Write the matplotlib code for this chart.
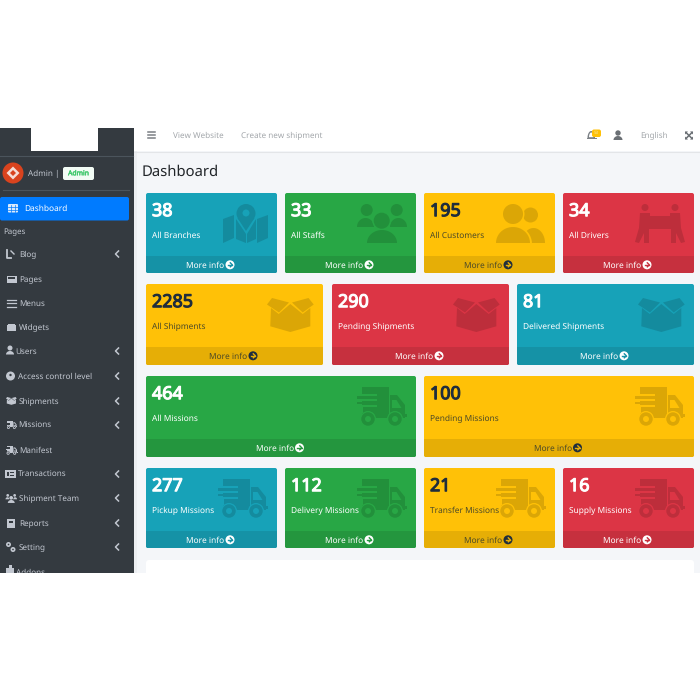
import numpy as np
import matplotlib
matplotlib.use('Agg')
import matplotlib.pyplot as plt
import matplotlib.patheffects as pe
from matplotlib.patches import Rectangle, Circle, Polygon, FancyBboxPatch
from matplotlib.colors import to_rgb

plt.rcParams['font.family'] = ['Noto Sans', 'DejaVu Sans']
plt.rcParams['text.hinting'] = 'no_hinting'

# dashboard data
card_values = [38, 33, 195, 34, 2285, 290, 81, 464, 100, 277, 112, 21, 16]
card_labels = ['All Branches', 'All Staffs', 'All Customers', 'All Drivers',
               'All Shipments', 'Pending Shipments', 'Delivered Shipments',
               'All Missions', 'Pending Missions',
               'Pickup Missions', 'Delivery Missions', 'Transfer Missions', 'Supply Missions']
card_colors = ['info', 'green', 'yellow', 'red',
               'yellow', 'red', 'info',
               'green', 'yellow',
               'info', 'green', 'yellow', 'red']
card_icons = ['map', 'team', 'users', 'carry',
              'box', 'box', 'box',
              'truck', 'truck',
              'truck', 'truck', 'truck', 'truck']
menu_labels = ['Blog', 'Pages', 'Menus', 'Widgets', 'Users', 'Access control level', 'Shipments',
               'Missions', 'Manifest', 'Transactions', 'Shipment Team', 'Reports', 'Setting', 'Addons']
menu_has_arrow = [1, 0, 0, 0, 1, 1, 1, 1, 0, 1, 1, 1, 1, 0]
nav_links = ['View Website', 'Create new shipment']

palette = {'info': '#17a2b8', 'green': '#28a745', 'yellow': '#ffc107', 'red': '#dc3545'}
side_txt = '#c2c7d0'
fs = 6.0
fs_nav = 5.85

# layout, in pixels of the 700x700 picture
row_tops = [193, 284, 376, 468]
row_bottoms = [273, 365, 457, 548]
row_lefts = [[146, 285, 424, 563], [146, 332, 517], [146, 424], [146, 285, 424, 563]]
row_rights = [[277, 416, 555, 694], [323, 509, 694], [416, 694], [277, 416, 555, 694]]
menu_y = [254, 279, 303, 327, 351, 376, 401, 425, 450, 474, 498, 523, 547, 572]
menu_x = [19, 19, 19, 19, 15, 18, 19, 18, 19, 18, 19, 19, 19, 16]

fig = plt.figure(figsize=(7, 7), dpi=100, facecolor='white')
ax = fig.add_axes([0, 0, 1, 1])
ax.set_xlim(0, 700)
ax.set_ylim(700, 0)
ax.axis('off')


def shade(c, f):
    return tuple(v * f for v in to_rgb(c))


def rect(x0, y0, x1, y1, c, z=1, **kw):
    r = Rectangle((x0, y0), x1 - x0, y1 - y0, fc=c, ec='none', zorder=z, **kw)
    ax.add_patch(r)
    return r


def poly(pts, x, y, s, c, z=4):
    pts = np.array(pts, dtype=float) * s + [x, y]
    ax.add_patch(Polygon(pts, closed=True, fc=c, ec='none', zorder=z))


def circ(cx, cy, r, c, z=4, x=0, y=0, s=1, **kw):
    ax.add_patch(Circle((x + cx * s, y + cy * s), r * s, fc=c, ec='none', zorder=z, **kw))


def heavy(t, c, lw):
    # Noto Sans comes without a usable bold here, so thicken the glyphs
    t.set_path_effects([pe.withStroke(linewidth=lw, foreground=c)])


def bust(x0, x1, top, bot):
    # half ellipse on a flat bottom
    t = np.linspace(np.pi, 2 * np.pi, 24)
    cx = (x0 + x1) / 2
    return list(zip(cx + (x1 - x0) / 2 * np.cos(t), bot + (bot - top) * np.sin(t)))


def truck(x, y, s, c, bg):
    poly([(5, 0), (32, 0), (32, 31), (5, 31)], x, y, s, c)
    poly([(33, 8), (40, 8), (48, 18), (48, 31), (33, 31)], x, y, s, c)
    poly([(35, 13), (39.5, 13), (44.5, 21), (35, 21)], x, y, s, bg, 5)
    for yy in (6.5, 12, 17.5):
        poly([(0, yy), (20, yy), (20, yy + 2.2), (0, yy + 2.2)], x, y, s, bg, 5)
    for yy in (9.2, 14.7):
        poly([(0, yy), (20, yy), (20, yy + 2.4), (0, yy + 2.4)], x, y, s, c, 6)
    poly([(0, 20), (6, 20), (6, 26), (0, 26)], x, y, s, bg, 5)
    poly([(45, 27), (50, 27), (50, 30), (45, 30)], x, y, s, c)
    for cx in (11, 38):
        circ(cx, 32, 8, bg, 6, x, y, s)
        circ(cx, 32, 6.7, c, 7, x, y, s)
        circ(cx, 32, 3, bg, 8, x, y, s)


def box(x, y, s, c, bg):
    poly([(5, 0), (22, 4.5), (12, 14.5), (0, 6.5)], x, y, s, c)
    poly([(41.5, 0), (25, 4.5), (35.7, 14.5), (46.7, 6.5)], x, y, s, c)
    poly([(4, 10), (11.7, 16), (23.3, 6), (35.7, 16), (43.3, 10),
          (43.3, 28.3), (23.3, 34), (3.3, 28.3)], x, y, s, c)


def map_icon(x, y, s, c, bg):
    poly([(0, 15), (11, 11), (11, 34), (0, 39)], x, y, s, c)
    poly([(13, 15), (23, 30), (23, 39), (13, 35)], x, y, s, c)
    poly([(33, 15), (24, 30), (24, 39), (33, 35)], x, y, s, c)
    poly([(34, 15), (45, 11), (45, 34), (34, 39)], x, y, s, c)
    circ(23, 9.5, 9.5, c, 5, x, y, s)
    poly([(14.5, 14), (31.5, 14), (23, 27)], x, y, s, c, 5)
    circ(23, 9, 3.5, bg, 6, x, y, s)


def team(x, y, s, c, bg):
    circ(9.7, 6, 6, c, 4, x, y, s)
    circ(39.7, 6, 6, c, 4, x, y, s)
    poly(bust(0, 17, 14, 23), x, y, s, c)
    poly(bust(33, 50, 14, 23), x, y, s, c)
    circ(24.7, 16.7, 9.5, bg, 5, x, y, s)
    circ(24.7, 16.7, 8, c, 6, x, y, s)
    poly(bust(10, 40, 26, 39), x, y, s, c, 6)


def users(x, y, s, c, bg):
    circ(34.5, 11, 7.5, c, 4, x, y, s)
    poly(bust(26, 49, 24, 39), x, y, s, c)
    circ(17, 10, 11.5, bg, 5, x, y, s)
    circ(17, 10, 10, c, 6, x, y, s)
    poly(bust(-2, 36, 21, 40), x, y, s, bg, 5)
    poly(bust(0, 34, 23, 39), x, y, s, c, 6)


def carry(x, y, s, c, bg):
    circ(10, 3.5, 3.5, c, 4, x, y, s)
    circ(40, 3.5, 3.5, c, 4, x, y, s)
    poly([(14, 12), (36, 12), (36, 25), (14, 25)], x, y, s, c)
    poly([(5, 9), (15, 9), (15, 24), (14, 24), (14, 39), (9, 39), (9, 29), (4, 39), (0, 38), (4, 24)],
         x, y, s, c)
    poly([(45, 9), (35, 9), (35, 24), (36, 24), (36, 39), (41, 39), (41, 29), (46, 39), (50, 38), (46, 24)],
         x, y, s, c)


card_icon_funcs = {'map': map_icon, 'team': team, 'users': users, 'carry': carry, 'box': box, 'truck': truck}
icon_boxes = {'map': (45, 39), 'team': (50, 39), 'users': (50, 39), 'carry': (50, 39), 'box': (47, 34), 'truck': (50, 39)}

# page background
rect(0, 128, 700, 573, '#f4f6f9', 0)

# bottom panel
ax.add_patch(FancyBboxPatch((146, 560), 548, 30, boxstyle='round,pad=0,rounding_size=3', fc='white', ec='none', zorder=1))

# top bar
rect(133, 128, 700, 151, 'white', 1)
ax.plot([133, 700], [151.5, 151.5], color='#e3e5e8', lw=0.8, zorder=2)
for yy in (132, 135, 138):
    ax.plot([147.5, 154.5], [yy, yy], color='#7a7f84', lw=1.1, zorder=3)
for name, x in zip(nav_links, [173, 241]):
    ax.text(x, 136, name, color='#a3a7ab', fontsize=fs_nav, va='center', zorder=3)
ax.text(640, 136, 'English', color='#a3a7ab', fontsize=fs_nav, va='center', zorder=3)
# bell with its badge
poly(bust(587.5, 595, 131, 138), 0, 0, 1, '#7a7f84', 3)
poly(bust(589, 593.5, 132.5, 137.2), 0, 0, 1, 'white', 3)
ax.plot([587, 596], [138.2, 138.2], color='#7a7f84', lw=0.7, zorder=3)
ax.add_patch(FancyBboxPatch((592, 129.5), 9, 7.5, boxstyle='round,pad=0,rounding_size=2', fc='#ffc107', ec='none', zorder=4))
ax.text(596.5, 133.2, '53', color='#f7e6a0', fontsize=3.2, ha='center', va='center', zorder=5)
# user icon
circ(618, 133, 2.7, '#6a6f74', 3)
poly(bust(613.5, 622.5, 136, 140), 0, 0, 1, '#6a6f74', 3)
# expand icon
for dx, dy in [(-1, -1), (1, -1), (-1, 1), (1, 1)]:
    poly([(689 + 4 * dx, 135.5 + 4 * dy), (689 + 1 * dx, 135.5 + 4 * dy), (689 + 4 * dx, 135.5 + 1 * dy)], 0, 0, 1, '#6a6f74', 3)
ax.plot([686, 692], [132.5, 138.5], color='#6a6f74', lw=1.1, zorder=3)
ax.plot([686, 692], [138.5, 132.5], color='#6a6f74', lw=1.1, zorder=3)

ax.text(142, 171.5, 'Dashboard', color='#212529', fontsize=10.7, va='center', zorder=3)

# sidebar
rect(133, 151, 137, 573, '#eceef1', 0.5)
rect(0, 128, 133.5, 573, '#343a40', 2)
rect(31, 128, 98, 151, 'white', 3)
ax.plot([0, 133], [155.5, 155.5], color='#4b545c', lw=0.8, zorder=3)
ax.plot([3, 129], [189.5, 189.5], color='#4b545c', lw=0.8, zorder=3)
circ(13, 173, 10.5, '#d9431e', 3)
poly([(13, 166.5), (19.5, 173), (13, 179.5), (6.5, 173)], 0, 0, 1, '#f5dcd5', 4)
poly([(13, 170), (16, 173), (13, 176), (10, 173)], 0, 0, 1, '#d9431e', 5)
ax.text(28, 173.5, 'Admin |', color=side_txt, fontsize=fs_nav, va='center', zorder=4)
ax.add_patch(FancyBboxPatch((63, 167), 31, 13, boxstyle='round,pad=0,rounding_size=2', fc='#f2fbf5', ec='none', zorder=3))
t = ax.text(78.5, 173.5, 'Admin', color='#3ec86b', fontsize=4.9, ha='center', va='center', zorder=4)
heavy(t, '#3ec86b', 0.3)

ax.add_patch(FancyBboxPatch((0, 197), 129, 23.5, boxstyle='round,pad=0,rounding_size=2', fc='#007bff', ec='none', zorder=3))
ax.add_patch(FancyBboxPatch((8, 204), 10, 8.5, boxstyle='round,pad=0,rounding_size=1', fc='#dbe9fb', ec='none', zorder=4))
for gx in (11.3, 14.6):
    ax.plot([gx, gx], [204.5, 212], color='#007bff', lw=0.5, zorder=5)
for gy in (207, 209.8):
    ax.plot([8, 18], [gy, gy], color='#007bff', lw=0.5, zorder=5)
ax.text(24, 209, 'Dashboard', color='white', fontsize=fs, va='center', zorder=4)
ax.text(3, 232, 'Pages', color=side_txt, fontsize=fs - 0.3, va='center', zorder=4)

bg = '#343a40'
for i, (name, x, y) in enumerate(zip(menu_labels, menu_x, menu_y)):
    ax.text(x, y + 0.8, name, color=side_txt, fontsize=fs_nav, va='center', zorder=4)
    if menu_has_arrow[i]:
        ax.plot([118.5, 115.5, 118.5], [y - 3, y, y + 3], color=side_txt, lw=1.1, zorder=4)

c = side_txt
# small menu icons
ax.plot([7, 7, 11], [250, 258, 258], color=c, lw=1.3, zorder=4)
ax.plot([11, 14], [251, 254], color=c, lw=1, zorder=4)
ax.add_patch(Rectangle((6.5, 275.5), 10, 7, fc=c, ec='none', zorder=4))
rect(8, 277, 15, 278.5, bg, 5)
for yy in (299.5, 303, 306.5):
    ax.plot([9, 16], [yy, yy], color=c, lw=0.9, zorder=4)
    ax.plot([6.5, 7.7], [yy, yy], color=c, lw=0.9, zorder=4)
rect(7, 325, 16, 331, c, 4)
rect(8, 323.5, 15, 324.5, c, 4)
circ(10, 348, 2.5, c)
poly(bust(6, 14, 351, 354.5), 0, 0, 1, c)
circ(10.5, 376, 4.5, c)
circ(10.5, 375, 1.2, bg, 5)
box(6, 397, 0.23, c, bg)
truck(6, 420.5, 0.22, c, bg)
truck(5.5, 445.5, 0.24, c, bg)
rect(5, 470, 15.5, 477.5, c, 4)
rect(7, 472, 9, 475.5, bg, 5)
rect(10, 472, 14, 473, bg, 5)
rect(10, 474.5, 14, 475.5, bg, 5)
team(5.5, 494, 0.23, c, bg)
rect(7, 518.5, 15, 527.5, c, 4)
rect(9, 520.5, 13, 522.5, bg, 5)
circ(8.5, 544.5, 2.5, c)
circ(13, 549.5, 2.5, c)
circ(8.5, 544.5, 0.8, bg, 5)
circ(13, 549.5, 0.8, bg, 5)
rect(6, 568, 14, 573, c, 4)
rect(8.5, 565, 11.5, 570, c, 4)

# cards
i = 0
for top, bot, lefts, rights in zip(row_tops, row_bottoms, row_lefts, row_rights):
    for x0, x1 in zip(lefts, rights):
        col = palette[card_colors[i]]
        dark = card_colors[i] == 'yellow'
        big_c = '#1f2d3d' if dark else 'white'
        small_c = '#4c4a28' if dark else 'white'
        foot = top + 63
        card = FancyBboxPatch((x0, top), x1 - x0, bot - top, boxstyle='round,pad=0,rounding_size=2', fc=col, ec='none', zorder=2)
        ax.add_patch(card)
        f = rect(x0, foot, x1, bot, shade(col, 0.9), 3)
        f.set_clip_path(card)
        t = ax.text(x0 + 6, top + 18.5, str(card_values[i]), color=big_c, fontsize=12.9, va='center', zorder=7)
        heavy(t, big_c, 0.8)
        ax.text(x0 + 6, top + 43, card_labels[i], color=small_c, fontsize=fs, va='center', zorder=7)
        cx = (x0 + x1) / 2
        ax.text(cx + 13, foot + 9.5, 'More info', color=small_c, fontsize=fs, ha='right', va='center', zorder=7)
        circ(cx + 18.5, foot + 8.8, 4.5, big_c, 7)
        ax.plot([cx + 16, cx + 20.5], [foot + 8.8, foot + 8.8], color=shade(col, 0.9), lw=1, zorder=8)
        ax.plot([cx + 18.8, cx + 20.8, cx + 18.8], [foot + 6.8, foot + 8.8, foot + 10.8], color=shade(col, 0.9), lw=1, zorder=8)
        name = card_icons[i]
        w, h = icon_boxes[name]
        card_icon_funcs[name](x1 - 9 - w, top + 11 if name != 'box' else top + 14, 1, shade(col, 0.86), col)
        i += 1

# the screenshot only fills the middle band of the picture
rect(0, 0, 700, 128, 'white', 20)
rect(0, 573, 700, 700, 'white', 20)

fig.savefig('out.png', dpi=100)
